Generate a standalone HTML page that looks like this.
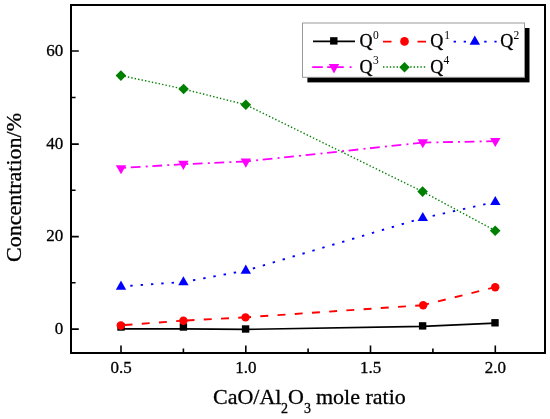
<!DOCTYPE html>
<html><head><meta charset="utf-8"><style>
html,body{margin:0;padding:0;background:#fff;}
svg{display:block;}
text{font-family:"Liberation Serif","Times New Roman",serif;fill:#000;stroke:#000;stroke-width:0.3px;}
</style></head><body>
<svg width="550" height="419" viewBox="0 0 550 419">
<rect x="0" y="0" width="550" height="419" fill="#fff"/>

<!-- series lines -->
<g fill="none" stroke-linejoin="round">
<polyline points="121,328.8 183.4,328.9 245.8,329.4 422.8,326.3 495.3,323.2" stroke="#000" stroke-width="1.7"/>
<path d="M121,325.3 L183.4,320.6" stroke="#f00" stroke-width="1.9" stroke-dasharray="7.95 9.3" stroke-dashoffset="13.7"/>
<path d="M183.4,320.6 L245.8,317.3" stroke="#f00" stroke-width="1.9" stroke-dasharray="7.95 9.3" stroke-dashoffset="14.1"/>
<path d="M245.8,317.3 L422.8,305.2" stroke="#f00" stroke-width="1.9" stroke-dasharray="7.95 9.3" stroke-dashoffset="2.7"/>
<path d="M422.8,305.2 L495.3,287.1" stroke="#f00" stroke-width="1.9" stroke-dasharray="7.95 9.3" stroke-dashoffset="1.58"/>
<path d="M121,286.4 L183.4,282.0" stroke="#00f" stroke-width="1.9" stroke-dasharray="2.4 7.95" stroke-dashoffset="1.02"/>
<path d="M183.4,282.0 L245.8,270.6" stroke="#00f" stroke-width="1.9" stroke-dasharray="2.4 7.95" stroke-dashoffset="0.57"/>
<path d="M245.8,270.6 L422.8,218.0" stroke="#00f" stroke-width="1.9" stroke-dasharray="2.4 7.95" stroke-dashoffset="3.0"/>
<path d="M422.8,218.0 L495.3,202.0" stroke="#00f" stroke-width="1.9" stroke-dasharray="2.4 7.95" stroke-dashoffset="0.29"/>
<path d="M121,168.0 L183.4,164.2" stroke="#f0f" stroke-width="1.8" stroke-dasharray="9.8 5.2 2 4.6" stroke-dashoffset="11.83"/>
<path d="M183.4,164.2 L245.8,161.5" stroke="#f0f" stroke-width="1.8" stroke-dasharray="9.8 5.2 2 4.6" stroke-dashoffset="12.15"/>
<path d="M245.8,161.5 L422.8,142.6" stroke="#f0f" stroke-width="1.8" stroke-dasharray="9.8 5.2 2 4.6" stroke-dashoffset="4.65"/>
<path d="M422.8,142.6 L495.3,141.2" stroke="#f0f" stroke-width="1.8" stroke-dasharray="9.8 5.2 2 4.6" stroke-dashoffset="1.35"/>
<polyline points="121,75.5 183.4,89.0 245.8,104.8 422.8,191.7 495.3,230.7" stroke="#008000" stroke-width="1.4" stroke-dasharray="1.4 2.1"/>

</g>

<!-- markers -->
<g fill="#000">
<rect x="117.30" y="323.30" width="7.4" height="7.4"/>
<rect x="179.70" y="323.30" width="7.4" height="7.4"/>
<rect x="241.90" y="325.30" width="7.4" height="7.4"/>
<rect x="418.90" y="322.20" width="7.4" height="7.4"/>
<rect x="491.30" y="319.10" width="7.4" height="7.4"/>
</g>
<g fill="#f00">
<circle cx="120.8" cy="325.5" r="4.2"/>
<circle cx="183.4" cy="320.8" r="4.2"/>
<circle cx="245.5" cy="317.4" r="4.2"/>
<circle cx="423.2" cy="305.3" r="4.2"/>
<circle cx="495.2" cy="287.2" r="4.2"/>
</g>
<g fill="#00f">
<path d="M121,280.53 L126.2,289.63 L115.8,289.63Z"/>
<path d="M183.4,276.13 L188.6,285.23 L178.20,285.23Z"/>
<path d="M245.8,264.53 L251.0,273.63 L240.60,273.63Z"/>
<path d="M422.8,211.93 L428.0,221.03 L417.6,221.03Z"/>
<path d="M495.3,195.93 L500.5,205.03 L490.1,205.03Z"/>
</g>
<g fill="#f0f">
<path d="M121,174.27 L126.2,165.17 L115.8,165.17Z"/>
<path d="M183.4,169.97 L188.6,160.87 L178.20,160.87Z"/>
<path d="M245.8,167.67 L251.0,158.57 L240.60,158.57Z"/>
<path d="M422.8,148.37 L428.0,139.27 L417.6,139.27Z"/>
<path d="M495.3,147.07 L500.5,137.97 L490.1,137.97Z"/>
</g>
<g fill="#008000">
<path d="M120.9,70.3 L126.2,75.6 L120.9,80.90 L115.60,75.6Z"/>
<path d="M183.6,83.7 L188.9,89.0 L183.6,94.3 L178.30,89.0Z"/>
<path d="M245.8,99.5 L251.10,104.8 L245.8,110.1 L240.5,104.8Z"/>
<path d="M422.6,186.30 L427.90,191.6 L422.6,196.9 L417.3,191.6Z"/>
<path d="M495.2,225.40 L500.5,230.7 L495.2,236.0 L489.9,230.7Z"/>
</g>


<!-- frame -->
<rect x="71" y="5" width="474" height="348" fill="none" stroke="#000" stroke-width="2"/>
<!-- y ticks -->
<g stroke="#000" stroke-width="1.6">
<path d="M72,329.1 h6.8 M72,236.6 h6.8 M72,144.1 h6.8 M72,51 h6.8"/>
<path d="M72,282.8 h3.6 M72,190.3 h3.6 M72,97.5 h3.6"/>
<path d="M121,352 v-6.4 M245.8,352 v-6.4 M370.5,352 v-6.4 M495.3,352 v-6.4"/>
<path d="M183.4,352 v-3.6 M308.1,352 v-3.6 M432.9,352 v-3.6"/>
</g>

<!-- tick labels -->
<g font-size="17" text-anchor="end">
<text x="63.3" y="333.6">0</text>
<text x="63.3" y="241.1">20</text>
<text x="63.3" y="148.5">40</text>
<text x="63.3" y="55.5">60</text>
</g>
<g font-size="17" text-anchor="middle">
<text x="121" y="373">0.5</text>
<text x="245.8" y="373">1.0</text>
<text x="370.5" y="373">1.5</text>
<text x="495.3" y="373">2.0</text>
</g>

<!-- axis titles -->
<text font-size="22" text-anchor="middle" transform="translate(20.9,187.5) rotate(-90)">Concentration/%</text>
<g font-size="22">
<text x="213" y="404">CaO/Al</text>
<text x="281" y="412.8" font-size="14">2</text>
<text x="288" y="404">O</text>
<text x="303.9" y="412.8" font-size="14">3</text>
<text x="316" y="404">mole ratio</text>
</g>

<!-- legend -->
<rect x="307.4" y="28" width="222.1" height="54.4" fill="#000"/>
<rect x="302.5" y="23" width="222" height="54.3" fill="#fff" stroke="#999" stroke-width="1"/>
<g fill="none">
<path d="M313,41.4 H355" stroke="#000" stroke-width="1.6"/>
<path d="M383,41.6 h8.5 M417.5,41.6 h8.5" stroke="#f00" stroke-width="1.6"/>
<path d="M453.6,41.6 h2.4 M463.7,41.6 h2.3 M484.2,41.6 h2.4 M494.4,41.6 h2.2" stroke="#00f" stroke-width="1.9"/>
<path d="M312.2,67.1 h10.6 M327.2,67.1 h16.6 M349.6,67.1 h2" stroke="#f0f" stroke-width="1.6"/>
<path d="M383,67 H426" stroke="#008000" stroke-width="1.4" stroke-dasharray="1.4 2"/>
</g>
<rect x="330.1" y="37.2" width="7.4" height="7.4" fill="#000"/>
<circle cx="404.5" cy="41.4" r="4.35" fill="#f00"/>
<path d="M474.8,35.4 l5.25,9.3 h-10.5z" fill="#00f"/>
<path d="M334,73.5 l5.2,-9.6 h-10.4z" fill="#f0f"/>
<path d="M404.5,62.1 l5.2,5.2 l-5.2,5.2 l-5.2,-5.2z" fill="#008000"/>
<g font-size="18">
<text x="359.6" y="47">Q</text>
<text x="372.9" y="39" font-size="11.5" style="stroke:none">0</text>
<text x="430.2" y="47">Q</text>
<text x="444.2" y="39" font-size="11.5" style="stroke:none">1</text>
<text x="500.3" y="47">Q</text>
<text x="513.5" y="39" font-size="11.5" style="stroke:none">2</text>
<text x="359.6" y="72.7">Q</text>
<text x="372.9" y="64.4" font-size="11.5" style="stroke:none">3</text>
<text x="430.2" y="72.7">Q</text>
<text x="443.5" y="64.4" font-size="11.5" style="stroke:none">4</text>
</g>
</svg>
</body></html>
